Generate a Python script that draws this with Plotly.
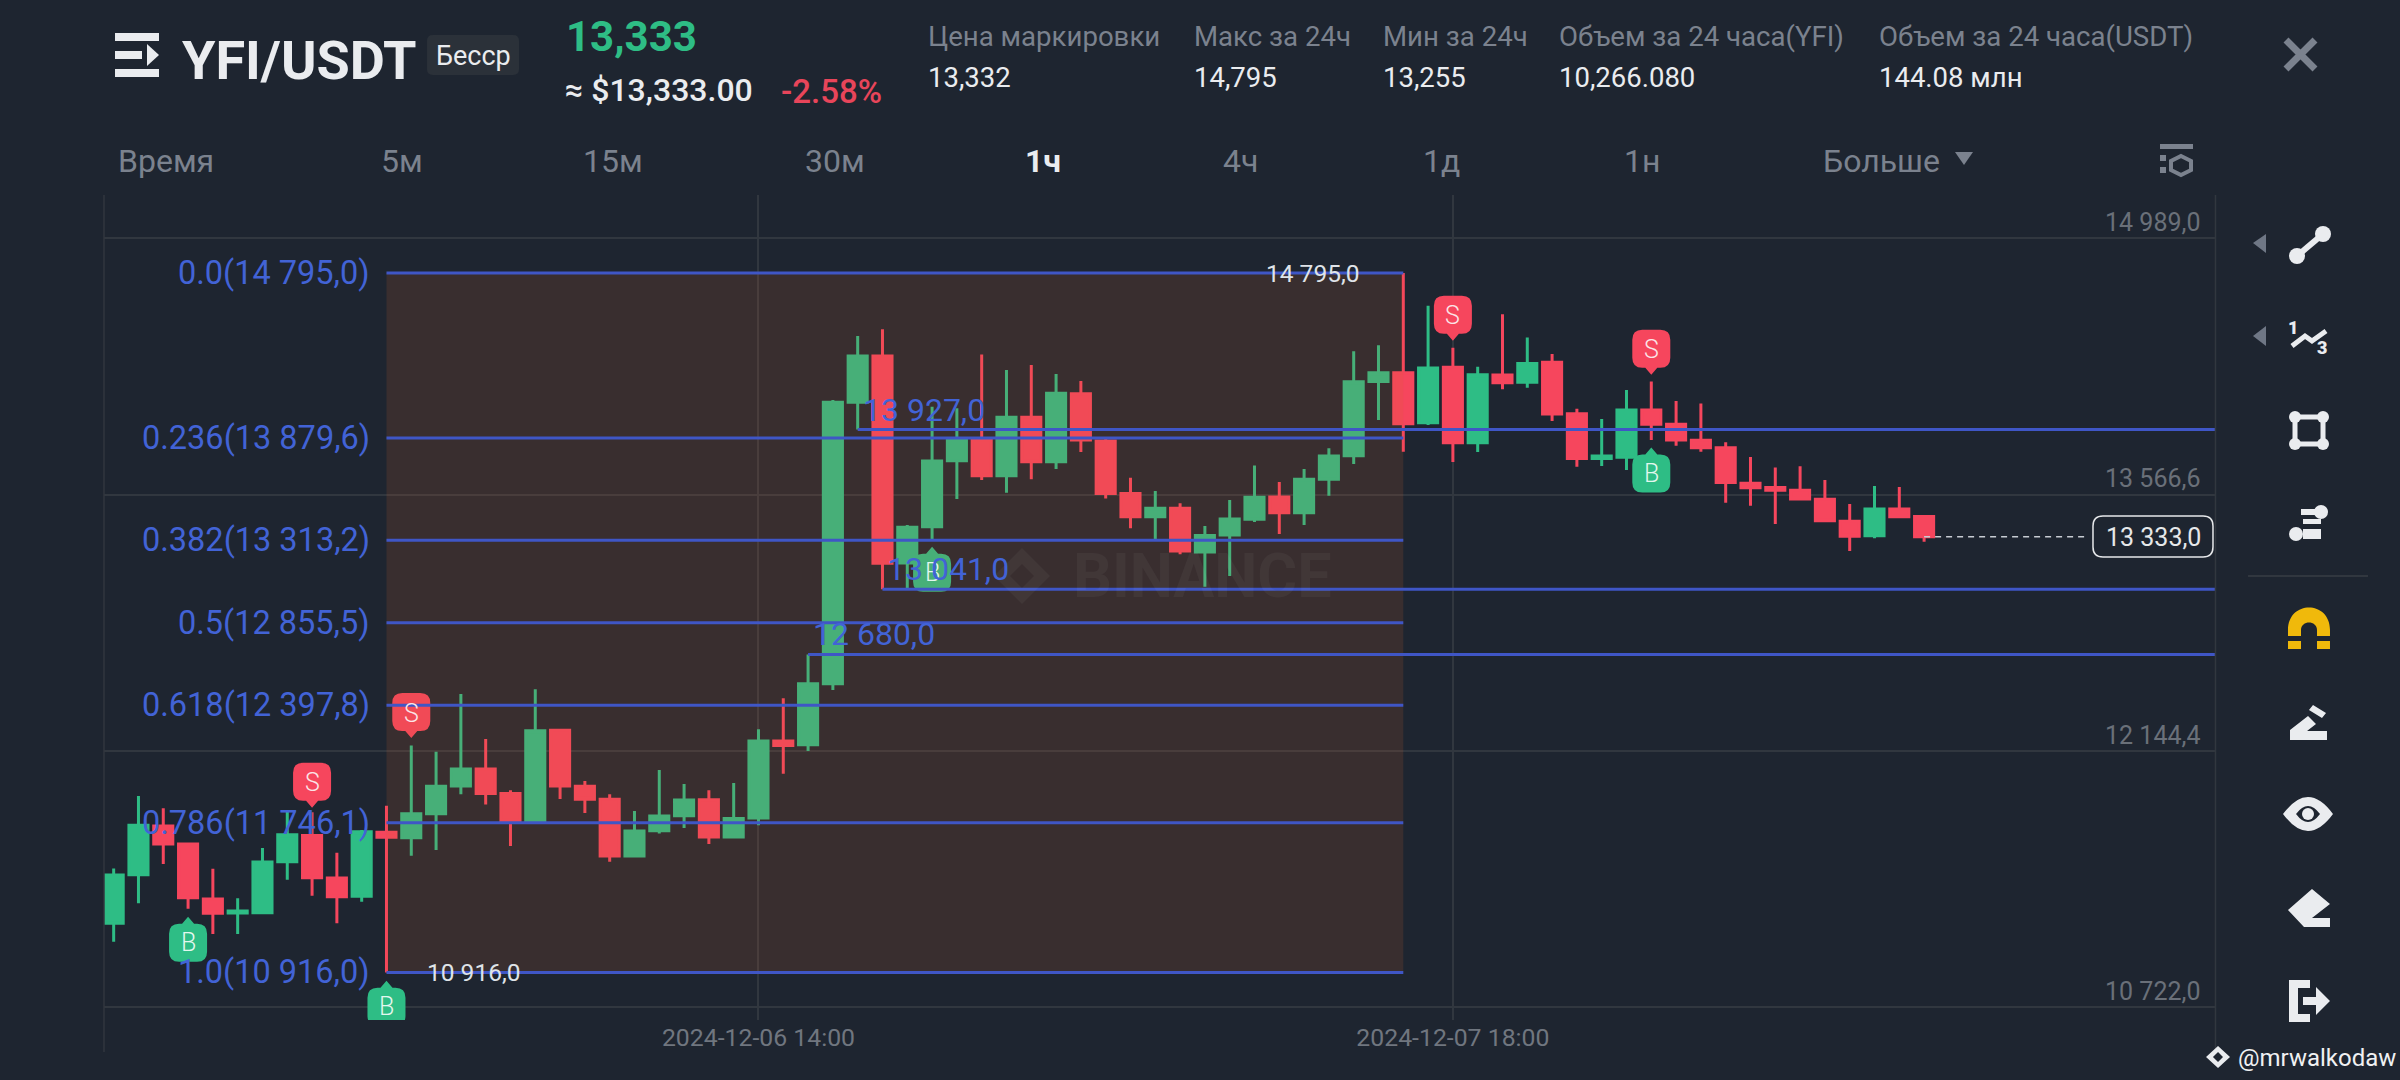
import re
import pandas as pd
import plotly.graph_objects as go

W, H = 2400, 1080

# hourly candles
start_time = "2024-12-05 12:00"
opens = [11188, 11458, 11728, 11628, 11323, 11245, 11247, 11530, 11676, 11439, 11338, 11693, 11663, 11796, 11950,
         12044, 11909, 11756, 12259, 11948, 11876, 11561, 11702, 11785, 11874, 11667, 11772, 12199, 12179, 12517,
         14079, 14335, 13187, 13388, 13754, 13869, 13671, 13995, 13748, 14126, 13863, 13573, 13443, 13490, 13248,
         13342, 13429, 13553, 13466, 13652, 13782, 14194, 14242, 13965, 14272, 13854, 14229, 14190, 14300, 14015,
         13767, 13774, 14035, 13956, 13867, 13826, 13629, 13606, 13591, 13540, 13418, 13338, 13486, 13445]
highs = [11493, 11894, 11826, 11637, 11491, 11327, 11606, 11807, 11805, 11580, 11706, 11840, 12175, 12140, 12460,
         12210, 11927, 12486, 12262, 11977, 11904, 11811, 12038, 11961, 11926, 11966, 12265, 12436, 12680, 14091,
         14446, 14483, 13397, 14053, 14045, 14344, 14257, 14285, 14235, 14196, 13884, 13660, 13586, 13518, 13392,
         13536, 13728, 13636, 13708, 13823, 14362, 14394, 14795, 14614, 14381, 14275, 14566, 14438, 14346, 14042,
         13985, 14146, 14194, 14085, 14072, 13856, 13775, 13717, 13723, 13647, 13514, 13614, 13608, 13450]
lows = [11086, 11299, 11517, 11269, 11129, 11129, 11247, 11430, 11341, 11188, 11308, 10916, 11563, 11595, 11904,
        11848, 11617, 11750, 11878, 11800, 11530, 11558, 11687, 11717, 11628, 11665, 11732, 12018, 12144, 12482,
        13927, 13041, 13041, 13314, 13542, 13647, 13576, 13652, 13708, 13802, 13545, 13379, 13310, 13236, 13055,
        13115, 13414, 13347, 13397, 13560, 13736, 13980, 13804, 13952, 13747, 13802, 14150, 14159, 13974, 13721,
        13725, 13702, 13869, 13837, 13804, 13521, 13504, 13403, 13536, 13414, 13253, 13324, 13436, 13305]
closes = [11456, 11732, 11628, 11330, 11244, 11256, 11528, 11680, 11441, 11336, 11696, 11665, 11796, 11948, 12044,
          11909, 11756, 12256, 11950, 11876, 11561, 11700, 11783, 11872, 11667, 11770, 12199, 12175, 12517, 14078,
          14335, 13185, 13385, 13752, 13869, 13671, 13995, 13748, 14128, 13869, 13573, 13443, 13490, 13253, 13340,
          13431, 13551, 13466, 13652, 13780, 14192, 14242, 13959, 14268, 13854, 14231, 14187, 14294, 14013, 13767,
          13780, 14035, 13957, 13869, 13826, 13634, 13604, 13590, 13542, 13421, 13335, 13486, 13443, 13333]

price_ticks = [14989.0, 13566.6, 12144.4, 10722.0]
price_tick_labels = ["14 989,0", "13 566,6", "12 144,4", "10 722,0"]
time_ticks = ["2024-12-06 14:00", "2024-12-07 18:00"]
last_price = 13333

fib_ratios = ["0.0", "0.236", "0.382", "0.5", "0.618", "0.786", "1.0"]
fib_prices = [14795.0, 13879.6, 13313.2, 12855.5, 12397.8, 11746.1, 10916.0]
fib_labels = ["14 795,0", "13 879,6", "13 313,2", "12 855,5", "12 397,8", "11 746,1", "10 916,0"]
fib_start = 11
fib_end = 52

ray_candles = [30, 31, 28]
ray_prices = [13927, 13041, 12680]
ray_labels = ["13 927,0", "13 041,0", "12 680,0"]

sell_candles = [8, 12, 54, 62]
sell_prices = [11829, 12216, 14419, 14231]
buy_candles = [3, 11, 33, 62]
buy_prices = [11225, 10870, 13277, 13828]

times = pd.date_range(start_time, periods=len(opens), freq="h")
X_RIGHT = "2024-12-09 00:45"

GREEN = "#2ebd85"
RED = "#f6465d"
BG = "#1e2530"
GRID = "#31373f"
BLUE = "#3f56c6"
LABEL_BLUE = "#4263d6"
MUTED = "#7b828e"
ICON = "#eaecef"
FONT = "Roboto"


def px_path(s):
    # path written in screen pixels -> paper coordinates
    out = []
    is_x = True
    for tok in re.findall(r"[MLCQZ]|-?\d+\.?\d*", s):
        if tok.isalpha():
            out.append(tok)
            is_x = True
        elif is_x:
            out.append(f"{float(tok) / W:.5f}")
            is_x = False
        else:
            out.append(f"{1 - float(tok) / H:.5f}")
            is_x = True
    return " ".join(out)


shapes = []
annotations = []


def poly(s, fill=ICON):
    shapes.append(dict(type="path", xref="paper", yref="paper", path=px_path(s), fillcolor=fill, line=dict(width=0)))


def stroke(s, color=ICON, width=5):
    shapes.append(dict(type="path", xref="paper", yref="paper", path=px_path(s), line=dict(color=color, width=width)))


def dot(cx, cy, r, fill=ICON):
    shapes.append(dict(type="circle", xref="paper", yref="paper", x0=(cx - r) / W, x1=(cx + r) / W,
                       y0=1 - (cy + r) / H, y1=1 - (cy - r) / H, fillcolor=fill, line=dict(width=0)))


def label(text, x, y, size, color="#eaecef", anchor="left", weight=400, family=FONT):
    annotations.append(dict(text=text, xref="paper", yref="paper", x=x / W, y=1 - y / H, xanchor=anchor,
                            yanchor="middle", showarrow=False, font=dict(family=family, size=size, color=color, weight=weight)))


# buy / sell badges, pinned to a price with a pixel sized outline
for idx, price in zip(sell_candles, sell_prices):
    shapes.append(dict(type="path", xref="x", yref="y", xsizemode="pixel", ysizemode="pixel",
                       xanchor=times[idx], yanchor=price, fillcolor=RED, line=dict(width=0),
                       path="M 0 0 L -6 7 L -9 7 Q -19 7 -19 17 L -19 35 Q -19 45 -9 45 L 9 45 Q 19 45 19 35 L 19 17 Q 19 7 9 7 L 6 7 Z"))
    annotations.append(dict(text="S", x=times[idx], y=price, yshift=25, showarrow=False,
                            font=dict(family=FONT, size=25, color="#fbe3e6", weight=300)))
for idx, price in zip(buy_candles, buy_prices):
    shapes.append(dict(type="path", xref="x", yref="y", xsizemode="pixel", ysizemode="pixel",
                       xanchor=times[idx], yanchor=price, fillcolor=GREEN, line=dict(width=0),
                       path="M 0 0 L -6 -7 L -9 -7 Q -19 -7 -19 -17 L -19 -35 Q -19 -45 -9 -45 L 9 -45 Q 19 -45 19 -35 L 19 -17 Q 19 -7 9 -7 L 6 -7 Z"))
    annotations.append(dict(text="B", x=times[idx], y=price, yshift=-26, showarrow=False,
                            font=dict(family=FONT, size=25, color="#e3f7ee", weight=300)))

# fibonacci block, tint sits over the candles
shapes.append(dict(type="rect", xref="x", yref="y", x0=times[fib_start], x1=times[fib_end], y0=fib_prices[-1], y1=fib_prices[0],
                   fillcolor="rgba(217,104,48,0.15)", line=dict(width=0)))
for ratio, price, text in zip(fib_ratios, fib_prices, fib_labels):
    shapes.append(dict(type="line", xref="x", yref="y", x0=times[fib_start], x1=times[fib_end], y0=price, y1=price,
                       line=dict(color=BLUE, width=3)))
    annotations.append(dict(text=f"{ratio}({text})", xref="paper", x=372 / W, y=price, xanchor="right", showarrow=False,
                            font=dict(family=FONT, size=32.5, color=LABEL_BLUE)))

# rays to the right edge
for idx, price, text in zip(ray_candles, ray_prices, ray_labels):
    shapes.append(dict(type="line", xref="x", yref="y", x0=times[idx], x1=X_RIGHT, y0=price, y1=price,
                       line=dict(color=BLUE, width=3)))
    annotations.append(dict(text=text, x=times[idx], y=price, xanchor="left", xshift=3, yshift=20, showarrow=False,
                            font=dict(family=FONT, size=32, color=LABEL_BLUE)))

annotations.append(dict(text="14 795,0", x=times[fib_end], y=fib_prices[0], xanchor="right", xshift=-41, showarrow=False,
                        font=dict(family=FONT, size=24.5, color="#dfe3e8")))
annotations.append(dict(text="10 916,0", x=times[fib_start], y=fib_prices[-1], xanchor="left", xshift=39, showarrow=False,
                        font=dict(family=FONT, size=24.5, color="#dfe3e8")))

# last price
shapes.append(dict(type="line", xref="x", yref="y", x0=times[-1], x1="2024-12-08 19:30", y0=last_price, y1=last_price,
                   line=dict(color="#c8cdd3", width=1.5, dash="6px,5px")))
stroke("M 2103 516 L 2203 516 Q 2213 516 2213 526 L 2213 547 Q 2213 557 2203 557 L 2103 557 Q 2093 557 2093 547 L 2093 526 Q 2093 516 2103 516 Z",
       color="#e6e8ea", width=1.5)
label("13 333,0", 2203, 537, 25, color="#e6e8ea", anchor="right")

# chart frame
stroke("M 104 195 L 104 1052", color=GRID, width=1.5)
stroke("M 2215.5 195 L 2215.5 1052", color=GRID, width=1.5)

# watermark
poly("M 1022 548 L 1050 576 L 1022 604 L 994 576 Z M 1022 564 L 1010 576 L 1022 588 L 1034 576 Z", fill="rgba(255,255,255,0.045)")
label("BINANCE", 1071, 576, 61, color="rgba(255,255,255,0.045)", weight=700)

# header
for y in (37, 55, 73):
    poly(f"M 115 {y - 4} L 159 {y - 4} L 159 {y + 4} L 115 {y + 4} Z" if y != 55 else "M 115 51 L 142 51 L 142 59 L 115 59 Z")
poly("M 147 44 L 159 55 L 147 66 Z")
label("YFI/USDT", 180, 60, 54, color="#eaecef", weight=700)
poly("M 433 35 L 513 35 Q 519 35 519 41 L 519 69 Q 519 75 513 75 L 433 75 Q 427 75 427 69 L 427 41 Q 427 35 433 35 Z", fill="#2b3139")
label("Бесср", 473, 56, 27, color="#eaecef", anchor="center")
label("13,333", 564, 37, 42, color=GREEN, weight=700)
label("≈ $13,333.00", 563, 90, 32, color="#eaecef", weight=500)
label("-2.58%", 779, 91, 33, color="#e8455a", weight=500)

stat_names = ["Цена маркировки", "Макс за 24ч", "Мин за 24ч", "Объем за 24 часа(YFI)", "Объем за 24 часа(USDT)"]
stat_values = ["13,332", "14,795", "13,255", "10,266.080", "144.08 млн"]
stat_x = [926, 1192, 1381, 1557, 1877]
for name, value, x in zip(stat_names, stat_values, stat_x):
    label(name, x, 37, 27.6, color=MUTED)
    label(value, x, 77, 27.5, color="#eaecef")

stroke("M 2286 40 L 2315 69 M 2315 40 L 2286 69", color=MUTED, width=7)

# interval tabs
tab_names = ["Время", "5м", "15м", "30м", "1ч", "4ч", "1д", "1н", "Больше"]
tab_x = [116, 379, 581, 803, 1023, 1221, 1421, 1622, 1821]
for name, x in zip(tab_names, tab_x):
    if name == "1ч":
        label(name, x, 161, 32, color="#eaecef", weight=700)
    else:
        label(name, x, 161, 32, color=MUTED)
poly("M 1955 152 L 1973 152 L 1964 165 Z", fill=MUTED)
poly("M 2160 144 L 2193 144 L 2193 149 L 2160 149 Z", fill=MUTED)
poly("M 2160 155 L 2166 155 L 2166 161 L 2160 161 Z M 2160 167 L 2166 167 L 2166 173 L 2160 173 Z", fill=MUTED)
stroke("M 2181 156 L 2191 161 L 2191 170 L 2181 175 L 2171 170 L 2171 161 Z", color=MUTED, width=4)

# drawing toolbar
poly("M 2266 234 L 2253 243 L 2266 253 Z", fill="#6f7785")
poly("M 2266 326 L 2253 336 L 2266 346 Z", fill="#6f7785")
stroke("M 2297 256 L 2323 234", width=6)
dot(2323, 234, 8)
dot(2297, 256, 8)
label("1", 2293, 327, 18, color=ICON, anchor="center", weight=900)
label("3", 2322, 348, 18, color=ICON, anchor="center", weight=900)
stroke("M 2292 346 L 2305 336 L 2312 341 L 2326 331", width=5)
stroke("M 2295 417 L 2323 417 L 2323 444 L 2295 444 Z", width=5)
for cx, cy in [(2295, 417), (2323, 417), (2295, 444), (2323, 444)]:
    dot(cx, cy, 6)
dot(2321, 512, 7)
dot(2296, 534, 7)
poly("M 2301 509 L 2315 509 L 2315 515 L 2301 515 Z")
poly("M 2303 519 L 2321 519 L 2321 524 L 2303 524 Z")
poly("M 2303 529 L 2321 529 L 2321 539 L 2303 539 Z")
stroke("M 2248 576 L 2368 576", color=GRID, width=2)
poly("M 2288 636 L 2288 630 C 2288 600 2330 600 2330 630 L 2330 636 L 2317 636 L 2317 630 C 2317 620 2301 620 2301 630 L 2301 636 Z", fill="#f0b90b")
poly("M 2288 641 L 2301 641 L 2301 649 L 2288 649 Z M 2317 641 L 2330 641 L 2330 649 L 2317 649 Z", fill="#f0b90b")
poly("M 2290 740 L 2290 730 L 2308 716 L 2316 724 L 2307 731 L 2327 731 L 2327 740 Z M 2313 705 L 2326 713 L 2322 718 L 2309 710 Z")
poly("M 2283 814 Q 2308 780 2333 814 Q 2308 848 2283 814 Z M 2296 814 Q 2308 830 2320 814 Q 2308 798 2296 814 Z")
dot(2308, 814, 6)
poly("M 2288 910 L 2312 889 L 2330 904 L 2312 918 L 2330 918 L 2330 927 L 2304 927 Z")
poly("M 2289 980 L 2310 980 L 2310 988 L 2298 988 L 2298 1014 L 2310 1014 L 2310 1022 L 2289 1022 Z")
poly("M 2303 997 L 2316 997 L 2316 987 L 2330 1001 L 2316 1015 L 2316 1005 L 2303 1005 Z")
poly("M 2218 1046 L 2230 1057 L 2218 1068 L 2206 1057 Z M 2218 1052 L 2213 1057 L 2218 1062 L 2223 1057 Z")
label("@mrwalkodaw", 2236, 1058, 24, color="#f0f1f2")

fig = go.Figure(go.Candlestick(
    x=times, open=opens, high=highs, low=lows, close=closes,
    increasing=dict(line=dict(color=GREEN, width=3), fillcolor=GREEN),
    decreasing=dict(line=dict(color=RED, width=3), fillcolor=RED),
    showlegend=False,
))

fig.update_layout(
    width=W, height=H,
    margin=dict(l=0, r=0, t=0, b=0),
    paper_bgcolor=BG, plot_bgcolor=BG,
    boxgap=0.23, boxgroupgap=0,
    shapes=shapes,
    annotations=annotations,
    font=dict(family=FONT),
    xaxis=dict(
        domain=[104 / W, 2215.5 / W],
        range=["2024-12-05 11:36:36", X_RIGHT],
        rangeslider=dict(visible=False),
        tickmode="array", tickvals=time_ticks, ticktext=time_ticks,
        showgrid=True, gridcolor=GRID, gridwidth=1.5,
        zeroline=False, showline=False, ticks="",
        tickfont=dict(family=FONT, size=24.8, color="#70767f"),
    ),
    yaxis=dict(
        domain=[1 - 1020 / H, 1 - 195 / H],
        range=[10652, 15228],
        side="right",
        ticklabelposition="inside",
        ticklabelshift=-16,
        ticklabelstandoff=12,
        tickmode="array", tickvals=price_ticks, ticktext=price_tick_labels,
        showgrid=True, gridcolor=GRID, gridwidth=1.5,
        zeroline=False, showline=False, ticks="",
        tickfont=dict(family=FONT, size=25, color="#6a7079"),
    ),
)

fig.write_html("out.html", config=dict(displayModeBar=False),
               post_script="document.body.style.margin='0';document.body.style.overflow='hidden';")
